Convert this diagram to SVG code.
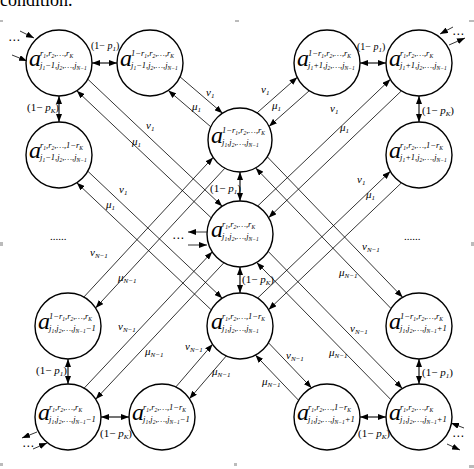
<svg xmlns="http://www.w3.org/2000/svg" width="474" height="469" viewBox="0 0 474 469">
<defs>
<style>
.c{fill:#fff;stroke:#000;stroke-width:1.4}
.l{stroke:#000;stroke-width:0.8;fill:none}
.d{stroke:#000;stroke-width:1.1;fill:none}
text{font-family:"Liberation Serif","Times New Roman",serif;fill:#000}
.a{font-size:24px;font-style:italic}
.t{font-size:8.5px;font-style:italic}
.s{font-size:5.5px}
.g{font-size:11px;font-style:italic}
.gs{font-size:7px;font-style:italic}
.p{font-size:11px}
.ps{font-size:10px}
.dots{font-size:12px;font-family:"DejaVu Sans",sans-serif}
.mk{fill:#bbb}
</style>
<marker id="ah" viewBox="0 0 8 6" refX="8" refY="3" markerWidth="8" markerHeight="6" markerUnits="userSpaceOnUse" orient="auto-start-reverse"><path d="M0,0L8,3L0,6z" fill="#000"/></marker>
</defs>
<rect width="474" height="469" fill="#fff"/>
<text x="0" y="6" style="font-size:18px">condition.</text>
<g id="marks">
<rect class="mk" x="0" y="20" width="3" height="2"/><rect class="mk" x="235" y="20" width="4" height="2"/><rect class="mk" x="469" y="20" width="5" height="2"/>
<rect class="mk" x="0" y="242" width="3" height="4"/><rect class="mk" x="471" y="242" width="3" height="4"/>
<rect class="mk" x="0" y="463" width="3" height="3"/><rect class="mk" x="234" y="463" width="3" height="3"/><rect class="mk" x="469" y="465" width="5" height="3"/>
</g>
<g id="connectors">
<line class="l" x1="180" y1="76.8" x2="222.5" y2="113.2" marker-end="url(#ah)"/>
<line class="l" x1="210.8" y1="126.8" x2="168.3" y2="90.4" marker-end="url(#ah)"/>
<line class="l" x1="257" y1="112.9" x2="297.3" y2="77.3" marker-end="url(#ah)"/>
<line class="l" x1="309.3" y1="90.7" x2="269" y2="126.4" marker-end="url(#ah)"/>
<line class="l" x1="87.8" y1="79.2" x2="222.2" y2="206.2" marker-end="url(#ah)"/>
<line class="l" x1="211.2" y1="217.8" x2="76.8" y2="90.8" marker-end="url(#ah)"/>
<line class="l" x1="87.8" y1="171.2" x2="222.2" y2="298.2" marker-end="url(#ah)"/>
<line class="l" x1="211.2" y1="309.8" x2="76.8" y2="182.8" marker-end="url(#ah)"/>
<line class="l" x1="83.8" y1="297.1" x2="213.1" y2="157.4" marker-end="url(#ah)"/>
<line class="l" x1="224.9" y1="168.2" x2="95.6" y2="307.9" marker-end="url(#ah)"/>
<line class="l" x1="84.1" y1="388.2" x2="212.3" y2="251.8" marker-end="url(#ah)"/>
<line class="l" x1="223.9" y1="262.8" x2="95.7" y2="399.2" marker-end="url(#ah)"/>
<line class="l" x1="175.8" y1="387" x2="212.6" y2="344.2" marker-end="url(#ah)"/>
<line class="l" x1="226.2" y1="356" x2="189.4" y2="398.8" marker-end="url(#ah)"/>
<line class="l" x1="257.6" y1="206.1" x2="390.4" y2="79.3" marker-end="url(#ah)"/>
<line class="l" x1="401.4" y1="90.9" x2="268.6" y2="217.7" marker-end="url(#ah)"/>
<line class="l" x1="257.6" y1="298.1" x2="390.4" y2="171.3" marker-end="url(#ah)"/>
<line class="l" x1="401.4" y1="182.9" x2="268.6" y2="309.7" marker-end="url(#ah)"/>
<line class="l" x1="267.3" y1="156.8" x2="402.6" y2="297.3" marker-end="url(#ah)"/>
<line class="l" x1="391" y1="308.5" x2="255.7" y2="168" marker-end="url(#ah)"/>
<line class="l" x1="268.1" y1="251.3" x2="402.3" y2="388.5" marker-end="url(#ah)"/>
<line class="l" x1="390.9" y1="399.7" x2="256.7" y2="262.5" marker-end="url(#ah)"/>
<line class="l" x1="268.4" y1="342.7" x2="311.6" y2="387.9" marker-end="url(#ah)"/>
<line class="l" x1="298.6" y1="400.3" x2="255.4" y2="355.1" marker-end="url(#ah)"/>
<line class="d" x1="92" y1="63" x2="117" y2="63" marker-start="url(#ah)" marker-end="url(#ah)"/>
<line class="d" x1="360" y1="63" x2="386" y2="63" marker-start="url(#ah)" marker-end="url(#ah)"/>
<line class="d" x1="59" y1="96" x2="59" y2="122" marker-start="url(#ah)" marker-end="url(#ah)"/>
<line class="d" x1="419" y1="96" x2="419" y2="122" marker-start="url(#ah)" marker-end="url(#ah)"/>
<line class="d" x1="240" y1="172" x2="240" y2="201" marker-start="url(#ah)" marker-end="url(#ah)"/>
<line class="d" x1="240" y1="267" x2="240" y2="293" marker-start="url(#ah)" marker-end="url(#ah)"/>
<line class="d" x1="68" y1="359" x2="68" y2="384" marker-start="url(#ah)" marker-end="url(#ah)"/>
<line class="d" x1="419" y1="359" x2="419" y2="384" marker-start="url(#ah)" marker-end="url(#ah)"/>
<line class="d" x1="101" y1="417" x2="129" y2="417" marker-start="url(#ah)" marker-end="url(#ah)"/>
<line class="d" x1="360" y1="417" x2="386" y2="417" marker-start="url(#ah)" marker-end="url(#ah)"/>
<line class="l" x1="20" y1="31" x2="34" y2="38" marker-end="url(#ah)"/>
<line class="l" x1="12" y1="55" x2="27" y2="61" marker-end="url(#ah)"/>
<line class="l" x1="453" y1="27" x2="440" y2="34" marker-end="url(#ah)"/>
<line class="l" x1="449" y1="45" x2="465" y2="38" marker-end="url(#ah)"/>
<line class="l" x1="207" y1="232" x2="188" y2="232" marker-end="url(#ah)"/>
<line class="l" x1="188" y1="245" x2="207" y2="245" marker-end="url(#ah)"/>
<line class="l" x1="37" y1="432" x2="22" y2="438" marker-end="url(#ah)"/>
<line class="l" x1="33" y1="449" x2="47" y2="443" marker-end="url(#ah)"/>
<line class="l" x1="464" y1="428" x2="451" y2="423" marker-end="url(#ah)"/>
<line class="l" x1="447" y1="444" x2="460" y2="450" marker-end="url(#ah)"/>
</g>
<g id="labels">
<text class="g" x="206" y="96">ν<tspan class="gs" dy="2">1</tspan></text>
<text class="g" x="192" y="110">μ<tspan class="gs" dy="2">1</tspan></text>
<text class="g" x="261" y="93">ν<tspan class="gs" dy="2">1</tspan></text>
<text class="g" x="272" y="109">μ<tspan class="gs" dy="2">1</tspan></text>
<text class="g" x="146" y="129">ν<tspan class="gs" dy="2">1</tspan></text>
<text class="g" x="132" y="145">μ<tspan class="gs" dy="2">1</tspan></text>
<text class="g" x="119" y="193">ν<tspan class="gs" dy="2">1</tspan></text>
<text class="g" x="106" y="208">μ<tspan class="gs" dy="2">1</tspan></text>
<text class="g" x="90" y="256">ν<tspan class="gs" dy="2">N−1</tspan></text>
<text class="g" x="118" y="281">μ<tspan class="gs" dy="2">N−1</tspan></text>
<text class="g" x="118" y="330">ν<tspan class="gs" dy="2">N−1</tspan></text>
<text class="g" x="145" y="355">μ<tspan class="gs" dy="2">N−1</tspan></text>
<text class="g" x="185" y="350">ν<tspan class="gs" dy="2">N−1</tspan></text>
<text class="g" x="212" y="375">μ<tspan class="gs" dy="2">N−1</tspan></text>
<text class="g" x="330" y="112">ν<tspan class="gs" dy="2">1</tspan></text>
<text class="g" x="340" y="131">μ<tspan class="gs" dy="2">1</tspan></text>
<text class="g" x="357" y="183">ν<tspan class="gs" dy="2">1</tspan></text>
<text class="g" x="366" y="198">μ<tspan class="gs" dy="2">1</tspan></text>
<text class="g" x="362" y="250">ν<tspan class="gs" dy="2">N−1</tspan></text>
<text class="g" x="339" y="276">μ<tspan class="gs" dy="2">N−1</tspan></text>
<text class="g" x="350" y="332">ν<tspan class="gs" dy="2">N−1</tspan></text>
<text class="g" x="329" y="356">μ<tspan class="gs" dy="2">N−1</tspan></text>
<text class="g" x="286" y="359">ν<tspan class="gs" dy="2">N−1</tspan></text>
<text class="g" x="262" y="385">μ<tspan class="gs" dy="2">N−1</tspan></text>
<text class="ps" x="91" y="49">(1− <tspan font-style="italic">p</tspan><tspan class="gs" dy="2">1</tspan><tspan dy="-2">)</tspan></text>
<text class="ps" x="357" y="50">(1− <tspan font-style="italic">p</tspan><tspan class="gs" dy="2">1</tspan><tspan dy="-2">)</tspan></text>
<text class="p" x="27" y="111">(1− <tspan font-style="italic">p</tspan><tspan class="gs" dy="2">K</tspan><tspan dy="-2">)</tspan></text>
<text class="p" x="422" y="114">(1− <tspan font-style="italic">p</tspan><tspan class="gs" dy="2">K</tspan><tspan dy="-2">)</tspan></text>
<text class="p" x="210" y="192">(1− <tspan font-style="italic">p</tspan><tspan class="gs" dy="2">1</tspan><tspan dy="-2">)</tspan></text>
<text class="p" x="242" y="283">(1− <tspan font-style="italic">p</tspan><tspan class="gs" dy="2">K</tspan><tspan dy="-2">)</tspan></text>
<text class="p" x="36" y="374">(1− <tspan font-style="italic">p</tspan><tspan class="gs" dy="2">1</tspan><tspan dy="-2">)</tspan></text>
<text class="p" x="422" y="376">(1− <tspan font-style="italic">p</tspan><tspan class="gs" dy="2">1</tspan><tspan dy="-2">)</tspan></text>
<text class="p" x="100" y="437">(1− <tspan font-style="italic">p</tspan><tspan class="gs" dy="2">K</tspan><tspan dy="-2">)</tspan></text>
<text class="p" x="358" y="437">(1− <tspan font-style="italic">p</tspan><tspan class="gs" dy="2">K</tspan><tspan dy="-2">)</tspan></text>
<text class="dots" x="8" y="44">⋯</text>
<text class="dots" x="452" y="38">⋯</text>
<text class="dots" x="172" y="242">⋯</text>
<text class="dots" x="22" y="450">⋯</text>
<text class="dots" x="452" y="440">⋯</text>
<text class="p" x="50" y="240">......</text>
<text class="p" x="404" y="240">......</text>
</g>
<g id="n-TL"><circle class="c" cx="59" cy="63" r="33"/><text class="a" x="29" y="66">a</text>
<text class="t" x="40" y="56">r<tspan class="s" dy="2">1</tspan><tspan dy="-2">,r</tspan><tspan class="s" dy="2">2</tspan><tspan dy="-2">,…,r</tspan><tspan class="s" dy="2">K</tspan></text>
<text class="t" x="40" y="68">j<tspan class="s" dy="2">1</tspan><tspan dy="-2">−1,j</tspan><tspan class="s" dy="2">2</tspan><tspan dy="-2">,…,j</tspan><tspan class="s" dy="2">N−1</tspan></text></g>
<g id="n-T2"><circle class="c" cx="150" cy="63" r="33"/><text class="a" x="120" y="66">a</text>
<text class="t" x="131" y="56">1−r<tspan class="s" dy="2">1</tspan><tspan dy="-2">,r</tspan><tspan class="s" dy="2">2</tspan><tspan dy="-2">,…,r</tspan><tspan class="s" dy="2">K</tspan></text>
<text class="t" x="131" y="68">j<tspan class="s" dy="2">1</tspan><tspan dy="-2">−1,j</tspan><tspan class="s" dy="2">2</tspan><tspan dy="-2">,…,j</tspan><tspan class="s" dy="2">N−1</tspan></text></g>
<g id="n-T3"><circle class="c" cx="327" cy="63" r="33"/><text class="a" x="297" y="66">a</text>
<text class="t" x="308" y="56">1−r<tspan class="s" dy="2">1</tspan><tspan dy="-2">,r</tspan><tspan class="s" dy="2">2</tspan><tspan dy="-2">,…,r</tspan><tspan class="s" dy="2">K</tspan></text>
<text class="t" x="308" y="68">j<tspan class="s" dy="2">1</tspan><tspan dy="-2">+1,j</tspan><tspan class="s" dy="2">2</tspan><tspan dy="-2">,…,j</tspan><tspan class="s" dy="2">N−1</tspan></text></g>
<g id="n-TR"><circle class="c" cx="419" cy="63" r="33"/><text class="a" x="389" y="66">a</text>
<text class="t" x="400" y="56">r<tspan class="s" dy="2">1</tspan><tspan dy="-2">,r</tspan><tspan class="s" dy="2">2</tspan><tspan dy="-2">,…,r</tspan><tspan class="s" dy="2">K</tspan></text>
<text class="t" x="400" y="68">j<tspan class="s" dy="2">1</tspan><tspan dy="-2">+1,j</tspan><tspan class="s" dy="2">2</tspan><tspan dy="-2">,…,j</tspan><tspan class="s" dy="2">N−1</tspan></text></g>
<g id="n-L2"><circle class="c" cx="59" cy="155" r="33"/><text class="a" x="29" y="158">a</text>
<text class="t" x="40" y="148">r<tspan class="s" dy="2">1</tspan><tspan dy="-2">,r</tspan><tspan class="s" dy="2">2</tspan><tspan dy="-2">,…,1−r</tspan><tspan class="s" dy="2">K</tspan></text>
<text class="t" x="40" y="160">j<tspan class="s" dy="2">1</tspan><tspan dy="-2">−1,j</tspan><tspan class="s" dy="2">2</tspan><tspan dy="-2">,…,j</tspan><tspan class="s" dy="2">N−1</tspan></text></g>
<g id="n-R2"><circle class="c" cx="419" cy="155" r="33"/><text class="a" x="389" y="158">a</text>
<text class="t" x="400" y="148">r<tspan class="s" dy="2">1</tspan><tspan dy="-2">,r</tspan><tspan class="s" dy="2">2</tspan><tspan dy="-2">,…,1−r</tspan><tspan class="s" dy="2">K</tspan></text>
<text class="t" x="400" y="160">j<tspan class="s" dy="2">1</tspan><tspan dy="-2">+1,j</tspan><tspan class="s" dy="2">2</tspan><tspan dy="-2">,…,j</tspan><tspan class="s" dy="2">N−1</tspan></text></g>
<g id="n-C1"><circle class="c" cx="240" cy="140" r="32"/><text class="a" x="211" y="143">a</text>
<text class="t" x="222" y="133">1−r<tspan class="s" dy="2">1</tspan><tspan dy="-2">,r</tspan><tspan class="s" dy="2">2</tspan><tspan dy="-2">,…,r</tspan><tspan class="s" dy="2">K</tspan></text>
<text class="t" x="222" y="145">j<tspan class="s" dy="2">1</tspan><tspan dy="-2">,j</tspan><tspan class="s" dy="2">2</tspan><tspan dy="-2">,…,j</tspan><tspan class="s" dy="2">N−1</tspan></text></g>
<g id="n-C2"><circle class="c" cx="240" cy="234" r="33"/><text class="a" x="211" y="237">a</text>
<text class="t" x="222" y="227">r<tspan class="s" dy="2">1</tspan><tspan dy="-2">,r</tspan><tspan class="s" dy="2">2</tspan><tspan dy="-2">,…,r</tspan><tspan class="s" dy="2">K</tspan></text>
<text class="t" x="222" y="239">j<tspan class="s" dy="2">1</tspan><tspan dy="-2">,j</tspan><tspan class="s" dy="2">2</tspan><tspan dy="-2">,…,j</tspan><tspan class="s" dy="2">N−1</tspan></text></g>
<g id="n-C3"><circle class="c" cx="240" cy="326" r="33"/><text class="a" x="211" y="329">a</text>
<text class="t" x="222" y="319">r<tspan class="s" dy="2">1</tspan><tspan dy="-2">,r</tspan><tspan class="s" dy="2">2</tspan><tspan dy="-2">,…,1−r</tspan><tspan class="s" dy="2">K</tspan></text>
<text class="t" x="222" y="331">j<tspan class="s" dy="2">1</tspan><tspan dy="-2">,j</tspan><tspan class="s" dy="2">2</tspan><tspan dy="-2">,…,j</tspan><tspan class="s" dy="2">N−1</tspan></text></g>
<g id="n-LL"><circle class="c" cx="68" cy="326" r="33"/><text class="a" x="38" y="329">a</text>
<text class="t" x="49" y="319">1−r<tspan class="s" dy="2">1</tspan><tspan dy="-2">,r</tspan><tspan class="s" dy="2">2</tspan><tspan dy="-2">,…,r</tspan><tspan class="s" dy="2">K</tspan></text>
<text class="t" x="49" y="331">j<tspan class="s" dy="2">1</tspan><tspan dy="-2">,j</tspan><tspan class="s" dy="2">2</tspan><tspan dy="-2">,…,j</tspan><tspan class="s" dy="2">N−1</tspan><tspan dy="-2">−1</tspan></text></g>
<g id="n-RL"><circle class="c" cx="419" cy="326" r="33"/><text class="a" x="389" y="329">a</text>
<text class="t" x="400" y="319">1−r<tspan class="s" dy="2">1</tspan><tspan dy="-2">,r</tspan><tspan class="s" dy="2">2</tspan><tspan dy="-2">,…,r</tspan><tspan class="s" dy="2">K</tspan></text>
<text class="t" x="400" y="331">j<tspan class="s" dy="2">1</tspan><tspan dy="-2">,j</tspan><tspan class="s" dy="2">2</tspan><tspan dy="-2">,…,j</tspan><tspan class="s" dy="2">N−1</tspan><tspan dy="-2">+1</tspan></text></g>
<g id="n-BL"><circle class="c" cx="68" cy="417" r="33"/><text class="a" x="38" y="420">a</text>
<text class="t" x="49" y="410">r<tspan class="s" dy="2">1</tspan><tspan dy="-2">,r</tspan><tspan class="s" dy="2">2</tspan><tspan dy="-2">,…,r</tspan><tspan class="s" dy="2">K</tspan></text>
<text class="t" x="49" y="422">j<tspan class="s" dy="2">1</tspan><tspan dy="-2">,j</tspan><tspan class="s" dy="2">2</tspan><tspan dy="-2">,…,j</tspan><tspan class="s" dy="2">N−1</tspan><tspan dy="-2">−1</tspan></text></g>
<g id="n-B2"><circle class="c" cx="162" cy="417" r="33"/><text class="a" x="132" y="420">a</text>
<text class="t" x="143" y="410">r<tspan class="s" dy="2">1</tspan><tspan dy="-2">,r</tspan><tspan class="s" dy="2">2</tspan><tspan dy="-2">,…,1−r</tspan><tspan class="s" dy="2">K</tspan></text>
<text class="t" x="143" y="422">j<tspan class="s" dy="2">1</tspan><tspan dy="-2">,j</tspan><tspan class="s" dy="2">2</tspan><tspan dy="-2">,…,j</tspan><tspan class="s" dy="2">N−1</tspan><tspan dy="-2">−1</tspan></text></g>
<g id="n-B3"><circle class="c" cx="327" cy="417" r="33"/><text class="a" x="297" y="420">a</text>
<text class="t" x="308" y="410">r<tspan class="s" dy="2">1</tspan><tspan dy="-2">,r</tspan><tspan class="s" dy="2">2</tspan><tspan dy="-2">,…,1−r</tspan><tspan class="s" dy="2">K</tspan></text>
<text class="t" x="308" y="422">j<tspan class="s" dy="2">1</tspan><tspan dy="-2">,j</tspan><tspan class="s" dy="2">2</tspan><tspan dy="-2">,…,j</tspan><tspan class="s" dy="2">N−1</tspan><tspan dy="-2">+1</tspan></text></g>
<g id="n-BR"><circle class="c" cx="419" cy="417" r="33"/><text class="a" x="389" y="420">a</text>
<text class="t" x="400" y="410">r<tspan class="s" dy="2">1</tspan><tspan dy="-2">,r</tspan><tspan class="s" dy="2">2</tspan><tspan dy="-2">,…,r</tspan><tspan class="s" dy="2">K</tspan></text>
<text class="t" x="400" y="422">j<tspan class="s" dy="2">1</tspan><tspan dy="-2">,j</tspan><tspan class="s" dy="2">2</tspan><tspan dy="-2">,…,j</tspan><tspan class="s" dy="2">N−1</tspan><tspan dy="-2">+1</tspan></text></g>
</svg>
